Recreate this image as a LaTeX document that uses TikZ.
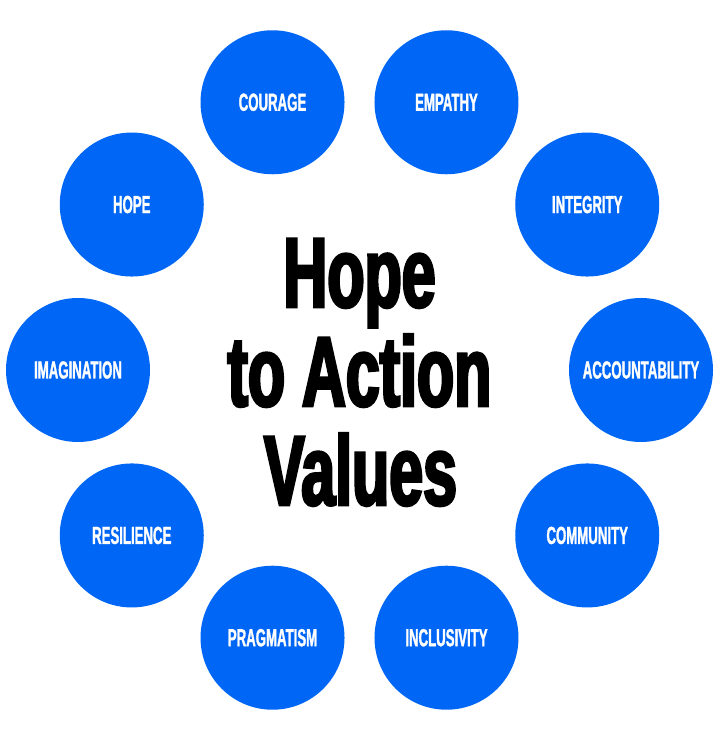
\documentclass[tikz,border=0pt]{standalone}
\usepackage{fontspec}
\usetikzlibrary{calc}
\newfontfamily\labfont{Liberation Sans}[FakeStretch=0.535,FakeBold=1.2]
\newfontfamily\titlefont{Liberation Sans}[FakeStretch=0.615,FakeBold=2.8]
\definecolor{valblue}{RGB}{0,102,245}
\begin{document}
\begin{tikzpicture}[x=1pt,y=1pt,
  value/.style={circle,fill=valblue,minimum size=144pt,inner sep=0pt,
    text=white,font=\labfont\bfseries\fontsize{24.7}{26}\selectfont},
  titleline/.style={anchor=base,inner sep=0pt,text=black,
    font=\titlefont\bfseries\fontsize{99}{99}\selectfont}]
\useasboundingbox (0,0) rectangle (719,743);
\coordinate (c) at (359.5,373);
\foreach \name/\ang/\txt in {acc/0/ACCOUNTABILITY, int/36/INTEGRITY, emp/72/EMPATHY,
  cou/108/COURAGE, hop/144/HOPE, ima/180/IMAGINATION, res/216/RESILIENCE,
  pra/252/PRAGMATISM, inc/288/INCLUSIVITY, com/324/COMMUNITY}
  \node[value] (\name) at ($(c)+(\ang:281.5)$) {\txt};
\node[titleline] (t1) at (359.5,436) {Hope};
\node[titleline] (t2) at (359.5,337) {to Action};
\node[titleline] (t3) at (360.5,238) {Values};
\end{tikzpicture}
\end{document}
